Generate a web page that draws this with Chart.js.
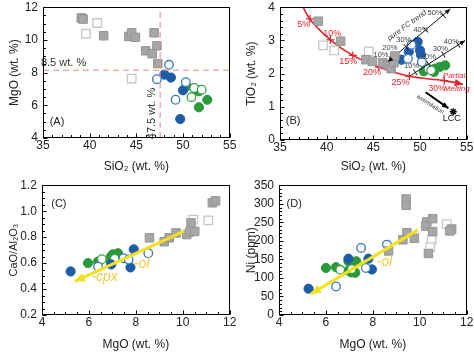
<!DOCTYPE html>
<html><head><meta charset="utf-8">
<script src="https://cdn.jsdelivr.net/npm/chart.js@4/dist/chart.umd.min.js"></script>
<style>
html,body{margin:0;padding:0;background:#fff;width:474px;height:352px;overflow:hidden}
canvas{position:absolute}
</style></head><body>
<canvas id="cA" width="237" height="178" style="left:0;top:0"></canvas>
<canvas id="cB" width="237" height="178" style="left:237px;top:0"></canvas>
<canvas id="cC" width="237" height="174" style="left:0;top:178px"></canvas>
<canvas id="cD" width="237" height="174" style="left:237px;top:178px"></canvas>
<script>
// ---------- DATA ----------
// Panel A: SiO2 vs MgO
const grayFilledA = [[39.1,11.35],[39.3,11.28],[41.5,10.26],[44.2,10.22],[44.5,10.44],[44.9,10.16],[46.0,9.34],[46.7,9.16],[46.9,10.44],[47.2,9.64],[47.3,8.56]];
const grayOpenA   = [[40.8,11.04],[39.6,10.38],[44.5,7.64]];
const blueOpenA   = [[48.5,8.48],[47.2,7.6],[50.3,7.42],[49.2,6.34]];
const blueFilledA = [[48.0,7.88],[48.7,7.7],[50.0,6.92],[49.7,5.16]];
const greenOpenA  = [[51.2,7.06],[52.0,6.96],[50.9,6.5]];
const greenFilledA= [[50.4,7.18],[51.5,6.92],[51.7,6.86],[52.6,6.34],[51.7,5.88]];
const mgoCutA  = 8.15;   // dashed horizontal line
const sioCutA  = 47.55;  // dashed vertical line

// Panel B: SiO2 vs TiO2
const grayFilledB = [[39.1,3.58],[41.5,2.98],[44.2,2.42],[44.9,2.37],[46.0,2.33],[46.6,2.27],[46.9,2.15],[47.2,2.33],[47.3,2.53]];
const grayOpenB   = [[39.6,2.85],[40.8,2.7],[44.5,2.67]];
const blueOpenB   = [[49.1,2.87],[48.7,2.45],[50.2,2.35]];
const blueFilledB = [[49.75,2.96],[50.0,2.7],[50.1,2.57],[48.8,2.66],[48.0,2.42]];
const greenOpenB  = [[50.9,2.15],[51.2,2.1]];
const greenFilledB= [[50.4,2.07],[51.6,2.15],[52.1,2.2],[52.7,2.25],[51.5,2.05]];
const meltCurveB  = [[37.5,3.98],[38.2,3.65],[40.4,3.02],[42.8,2.55],[45.6,2.2],[48.86,1.92],[52.6,1.79],[54.6,1.68]];
const meltLabelsB = ['', '5%','10%','15%','20%','25%','30%',''];
const fcLine1B    = [[46.53,2.35],[53.24,3.95]];
const fcTicks1B   = [[46.9,2.44],[47.5,2.58],[48.5,2.81],[50.6,3.32],[52.5,3.76]];
const fcLine2B    = [[48.86,1.92],[54.83,3.0]];
const fcTicks2B   = [[49.5,2.04],[50.9,2.29],[52.5,2.58],[54.1,2.87]];
const assimB      = [[50.6,1.44],[53.03,0.96]];
const lccB        = [[53.56,0.85]];

// Panel C: MgO vs CaO/Al2O3
const grayFilledC = [[8.58,0.795],[9.21,0.765],[9.42,0.795],[9.71,0.833],[10.17,0.82],[10.3,0.84],[10.51,0.845],[10.35,0.91],[11.26,1.065],[11.4,1.08]];
const grayOpenC   = [[10.45,0.935],[11.09,0.93]];
const blueOpenC   = [[6.39,0.572],[7.47,0.638],[7.69,0.628],[8.53,0.676]];
const blueFilledC = [[5.22,0.536],[6.95,0.59],[7.77,0.567],[7.91,0.706]];
const greenOpenC  = [[6.55,0.63],[7.1,0.635]];
const greenFilledC= [[5.96,0.6],[6.39,0.612],[6.93,0.65],[7.02,0.668],[7.24,0.676],[7.1,0.64],[6.92,0.62]];
const olArrowC    = [[10.06,0.846],[5.4,0.46]];

// Panel D: MgO vs Ni
const grayFilledD = [[9.42,313],[9.42,296],[9.45,222],[9.28,203],[9.77,207],[8.67,173],[10.3,251],[10.55,260],[10.25,240],[10.55,225],[10.37,166],[11.36,232],[11.28,227]];
const grayOpenD   = [[11.15,245],[10.51,203],[10.44,183]];
const blueOpenD   = [[6.43,77],[7.5,181],[7.7,127],[8.6,190]];
const blueFilledD = [[5.26,71],[6.96,152],[7.81,152],[7.96,123]];
const greenOpenD  = [[6.61,122],[7.1,124]];
const greenFilledD= [[6.0,127],[6.43,129],[6.96,145],[7.29,145],[6.96,120],[7.08,115],[7.25,114]];
const olArrowD    = [[9.91,229],[5.36,57]];

// ---------- STYLE / HELPERS ----------
const F = '"Liberation Sans", Arial, sans-serif';
const P = a => a.map(([x,y]) => ({x, y}));
const S = {
  grayF:  {pointStyle:'rect', pointRadius:6, backgroundColor:'#a6a6a6', borderColor:'#959595', borderWidth:1},
  grayO:  {pointStyle:'rect', pointRadius:6, backgroundColor:'#ffffff', borderColor:'#c6c6c6', borderWidth:1.3},
  blueO:  {pointStyle:'circle', pointRadius:4.3, backgroundColor:'#ffffff', borderColor:'#3a77c0', borderWidth:1.3},
  blueF:  {pointStyle:'circle', pointRadius:4.6, backgroundColor:'#1d5ca6', borderColor:'#1d5ca6', borderWidth:1},
  greenO: {pointStyle:'circle', pointRadius:4.3, backgroundColor:'#ffffff', borderColor:'#3a9e48', borderWidth:1.3},
  greenF: {pointStyle:'circle', pointRadius:4.6, backgroundColor:'#2b993b', borderColor:'#2b993b', borderWidth:1}
};
const pts = (d, s) => Object.assign({data:P(d), showLine:false, pointHoverRadius:0}, S[s]);
const line = (d, o) => Object.assign({data:P(d), showLine:true, pointRadius:0, fill:false, borderWidth:1}, o);

function axes(o){
  return {
    x:{type:'linear', min:o.xmin, max:o.xmax,
       ticks:{stepSize:o.xstep, padding:0, color:'#222', font:{family:F,size:12}, callback:o.xfmt||(v=>v)},
       grid:{display:false, drawTicks:false}, border:{display:false},
       title:{display:true, text:o.xt, color:'#222', font:{family:F,size:12}, padding:{top:0,bottom:o.xtp}},
       afterFit(s){ s.height=o.xh; s.paddingLeft=0; s.paddingRight=0; }},
    y:{type:'linear', min:o.ymin, max:o.ymax,
       ticks:{stepSize:o.ystep, padding:5, color:'#222', font:{family:F,size:12}, callback:o.yfmt||(v=>v)},
       grid:{display:false, drawTicks:false}, border:{display:false},
       title:{display:true, text:o.yt, color:'#222', font:{family:F,size:o.ytsize||12}, padding:{top:7,bottom:0}},
       afterFit(s){ s.width=o.yw; s.paddingTop=0; s.paddingBottom=0; }}
  };
}

function head(ctx, p, q, size, color){
  const a = Math.atan2(p.y-q.y, p.x-q.x);
  ctx.fillStyle=color; ctx.beginPath();
  ctx.moveTo(p.x,p.y);
  ctx.lineTo(p.x-size*Math.cos(a-0.42), p.y-size*Math.sin(a-0.42));
  ctx.lineTo(p.x-size*Math.cos(a+0.42), p.y-size*Math.sin(a+0.42));
  ctx.closePath(); ctx.fill();
}

function deco(o, notes){
  return {
    id:'deco',
    afterDatasetsDraw(chart){
      const ctx=chart.ctx, xs=chart.scales.x, ys=chart.scales.y;
      ctx.save();
      chart.data.datasets.forEach((ds,i)=>{
        if(!ds.arrowEnd && !ds.arrowStart) return;
        const m=chart.getDatasetMeta(i).data;
        if(ds.arrowEnd) head(ctx, m[m.length-1], m[m.length-2], ds.arrowSize||7, ds.borderColor);
        if(ds.arrowStart) head(ctx, m[0], m[1], ds.arrowSize||7, ds.borderColor);
      });
      notes.forEach(n=>{
        const x=xs.getPixelForValue(n.x), y=ys.getPixelForValue(n.y);
        ctx.save(); ctx.translate(x,y); ctx.rotate((n.rot||0)*Math.PI/180);
        ctx.font=(n.style||'')+' '+(n.size||11)+'px '+F;
        ctx.fillStyle=n.color||'#222'; ctx.textAlign=n.align||'center'; ctx.textBaseline='middle';
        ctx.fillText(n.t,0,0); ctx.restore();
      });
      ctx.restore();
    },
    afterDraw(chart){
      const ctx=chart.ctx, a=chart.chartArea, xs=chart.scales.x, ys=chart.scales.y;
      const L=Math.round(a.left)+0.5, R=Math.round(a.right)-0.5, T=Math.round(a.top)+0.5, B=Math.round(a.bottom)-0.5;
      ctx.save(); ctx.strokeStyle='#000'; ctx.lineWidth=1;
      ctx.strokeRect(L,T,R-L,B-T);
      ctx.beginPath();
      const nx=Math.round((o.xmax-o.xmin)/o.xminor), ny=Math.round((o.ymax-o.ymin)/o.yminor);
      const rx=Math.round(o.xstep/o.xminor), ry=Math.round(o.ystep/o.yminor);
      for(let i=0;i<=nx;i++){ const px=Math.round(xs.getPixelForValue(o.xmin+i*o.xminor))+0.5; const len=(i%rx===0)?4:2.5; ctx.moveTo(px,B); ctx.lineTo(px,B-len); }
      for(let j=0;j<=ny;j++){ const py=Math.round(ys.getPixelForValue(o.ymin+j*o.yminor))+0.5; const len=(j%ry===0)?4:2.5; ctx.moveTo(L,py); ctx.lineTo(L+len,py); }
      ctx.stroke(); ctx.restore();
    }
  };
}

function make(id, o, datasets, notes, pad){
  new Chart(document.getElementById(id), {
    type:'scatter',
    data:{datasets},
    options:{responsive:false, animation:false, events:[],
      layout:{padding:pad},
      plugins:{legend:{display:false}, tooltip:{enabled:false}},
      scales:axes(o)},
    plugins:[deco(o, notes)]
  });
}

// ---------- PANEL A ----------
const oA={xmin:35,xmax:55,xstep:5,xminor:1,ymin:4,ymax:12,ystep:2,yminor:0.5,xt:'SiO₂ (wt. %)',yt:'MgO (wt. %)',xh:40,xtp:4,yw:43};
make('cA', oA, [
  line([[35,mgoCutA],[55,mgoCutA]], {borderColor:'#ee8a8a', borderDash:[6,4]}),
  line([[sioCutA,4],[sioCutA,12]], {borderColor:'#ee8a8a', borderDash:[6,4]}),
  pts(grayFilledA,'grayF'), pts(grayOpenA,'grayO'),
  pts(blueOpenA,'blueO'), pts(blueFilledA,'blueF'),
  pts(greenOpenA,'greenO'), pts(greenFilledA,'greenF')
], [
  {t:'8.5 wt. %', x:37.2, y:8.6, size:11, color:'#333'},
  {t:'47.5 wt. %', x:46.68, y:5.5, size:11, rot:-90, color:'#333'},
  {t:'(A)', x:36.5, y:5.0, size:11}
], {left:0,right:5.5,top:5,bottom:0});

// ---------- PANEL B ----------
const oB={xmin:35,xmax:55,xstep:5,xminor:1,ymin:0,ymax:4,ystep:1,yminor:0.2,xt:'SiO₂ (wt. %)',yt:'TiO₂ (wt. %)',xh:38,xtp:4,yw:43};
const red='#e4232e';
make('cB', oB, [
  pts(grayFilledB,'grayF'), pts(grayOpenB,'grayO'),
  line(meltCurveB, {borderColor:red, borderWidth:1.6, cubicInterpolationMode:'monotone',
    pointRadius:meltLabelsB.map(l=>l?4:0), pointStyle:'cross', pointBorderColor:red, pointBorderWidth:1.3,
    arrowEnd:true, arrowSize:9}),
  line(fcLine1B, {borderColor:'#111', borderWidth:1, arrowEnd:true, arrowStart:true, arrowSize:6}),
  Object.assign(pts(fcTicks1B,'grayF'), {pointStyle:'line', rotation:50, pointRadius:3.5, borderColor:'#111', borderWidth:1}),
  line(fcLine2B, {borderColor:'#111', borderWidth:1, arrowEnd:true, arrowSize:6}),
  Object.assign(pts(fcTicks2B,'grayF'), {pointStyle:'line', rotation:59, pointRadius:3.5, borderColor:'#111', borderWidth:1}),
  line(assimB, {borderColor:'#000', borderWidth:2, arrowEnd:true, arrowSize:7}),
  Object.assign(pts(lccB,'grayF'), {pointStyle:'star', pointRadius:3.5, borderColor:'#000', backgroundColor:'#000', borderWidth:1.5}),
  pts(blueOpenB,'blueO'), pts(blueFilledB,'blueF'),
  pts(greenOpenB,'greenO'), pts(greenFilledB,'greenF')
], [
  {t:'5%', x:37.55, y:3.49, size:9, color:red},
  {t:'10%', x:40.6, y:3.2, size:9, color:red},
  {t:'15%', x:42.3, y:2.36, size:9, color:red},
  {t:'20%', x:44.86, y:2.02, size:9, color:red},
  {t:'25%', x:47.9, y:1.74, size:9, color:red},
  {t:'Partial', x:53.66, y:1.93, size:8, color:red, style:'italic'},
  {t:'30%', x:50.9, y:1.54, size:8.5, color:red, align:'left'},
  {t:'Melting', x:52.55, y:1.54, size:8, color:red, align:'left', style:'italic'},
  {t:'pure FC trend', x:48.6, y:3.45, size:7.5, rot:-36, style:'italic', color:'#333'},
  {t:'10%', x:45.82, y:2.55, size:7.5, color:'#444'},
  {t:'20%', x:46.77, y:2.76, size:7.5, color:'#444'},
  {t:'30%', x:48.26, y:3.03, size:7.5, color:'#444'},
  {t:'40%', x:50.1, y:3.33, size:7.5, color:'#444'},
  {t:'50%', x:51.6, y:3.82, size:7.5, color:'#444'},
  {t:'10%', x:49.1, y:2.22, size:7.5, color:'#444'},
  {t:'20%', x:50.9, y:2.49, size:7.5, color:'#444'},
  {t:'30%', x:52.18, y:2.73, size:7.5, color:'#444'},
  {t:'40%', x:53.35, y:2.97, size:7.5, color:'#444'},
  {t:'assimilation', x:51.1, y:1.07, size:6, rot:33, color:'#333'},
  {t:'LCC', x:53.4, y:0.66, size:9, color:'#111'},
  {t:'(B)', x:36.4, y:0.58, size:11}
], {left:0,right:5,top:6.7,bottom:0});

// ---------- PANEL C ----------
const yel='#f4e11e', yelT='#f0cc44';
const oC={xmin:4,xmax:12,xstep:2,xminor:0.5,ymin:0.2,ymax:1.2,ystep:0.2,yminor:0.05,xt:'MgO (wt. %)',yt:'CaO/Al₂O₃',ytsize:11,xh:37,xtp:0,yw:42,yfmt:v=>v.toFixed(1)};
make('cC', oC, [
  line(olArrowC, {borderColor:yel, borderWidth:3, arrowEnd:true, arrowSize:11}),
  pts(grayFilledC,'grayF'), pts(grayOpenC,'grayO'),
  pts(blueOpenC,'blueO'), pts(blueFilledC,'blueF'),
  pts(greenOpenC,'greenO'), pts(greenFilledC,'greenF')
], [
  {t:'-ol', x:8.25, y:0.593, size:14, style:'italic', color:yelT},
  {t:'-cpx', x:6.67, y:0.49, size:14, style:'italic', color:yelT},
  {t:'(C)', x:4.72, y:1.058, size:11}
], {left:0,right:6,top:5.3,bottom:0});

// ---------- PANEL D ----------
const oD={xmin:4,xmax:12,xstep:2,xminor:0.5,ymin:0,ymax:350,ystep:50,yminor:10,xt:'MgO (wt. %)',yt:'Ni (ppm)',xh:37,xtp:0,yw:42};
make('cD', oD, [
  line(olArrowD, {borderColor:yel, borderWidth:3, arrowEnd:true, arrowSize:11}),
  pts(grayFilledD,'grayF'), pts(grayOpenD,'grayO'),
  pts(blueOpenD,'blueO'), pts(blueFilledD,'blueF'),
  pts(greenOpenD,'greenO'), pts(greenFilledD,'greenF')
], [
  {t:'-ol', x:8.5, y:143, size:14, style:'italic', color:yelT},
  {t:'(D)', x:4.65, y:299, size:11}
], {left:0,right:6,top:5,bottom:0});
</script>
</body></html>
